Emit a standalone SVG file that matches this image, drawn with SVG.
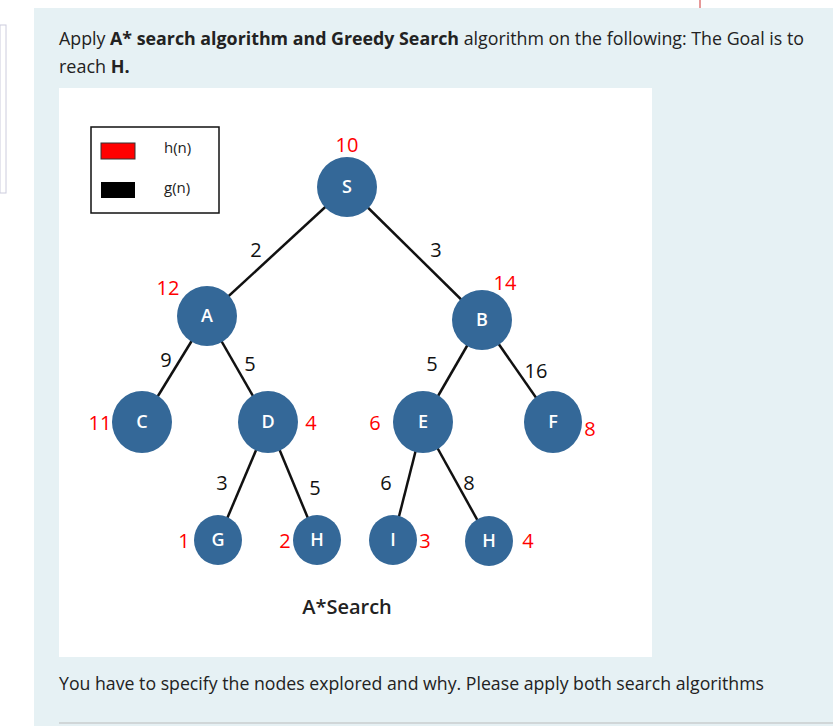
<svg xmlns="http://www.w3.org/2000/svg" width="833" height="726" viewBox="0 0 833 726">
<style>
.n{fill:#346898}
.nt{fill:#fff;font:600 18px "Open Sans",sans-serif;text-anchor:middle}
.e{stroke:#111;stroke-width:2.5}
.w{fill:#111;font:20px "Open Sans",sans-serif;text-anchor:middle}
.h{fill:#f00;font:20px "Open Sans",sans-serif;text-anchor:middle}
.p{font:18px "Open Sans",sans-serif;fill:#222}
</style>
<rect width="833" height="726" fill="#fff"/>
<rect x="0" y="25" width="6" height="168" fill="#fff" stroke="#ccd" stroke-width="1"/>
<line x1="700" y1="0" x2="700" y2="8" stroke="#c33"/>
<rect x="34" y="8" width="799" height="718" fill="#e6f1f4"/>
<text class="p" x="59" y="45" textLength="745" lengthAdjust="spacingAndGlyphs">Apply <tspan font-weight="bold">A* search algorithm and Greedy Search</tspan> algorithm on the following: The Goal is to</text>
<text class="p" x="59" y="73">reach <tspan font-weight="bold">H.</tspan></text>
<rect x="59" y="88" width="593" height="569" fill="#fff"/>
<g id="legend">
<rect x="91" y="127" width="128" height="86" fill="#fff" stroke="#111" stroke-width="1.5"/>
<rect x="101" y="143" width="34" height="16" fill="#f00" stroke="#333"/>
<rect x="101" y="182" width="34" height="16" fill="#000"/>
<text x="164" y="153" font-family="Open Sans,sans-serif" font-size="15" fill="#222">h(n)</text>
<text x="164" y="193" font-family="Open Sans,sans-serif" font-size="15" fill="#222">g(n)</text>
</g>
<g id="connectors">
<line class="e" x1="347" y1="187" x2="207" y2="316"/>
<line class="e" x1="347" y1="187" x2="482" y2="320"/>
<line class="e" x1="207" y1="316" x2="142" y2="422"/>
<line class="e" x1="207" y1="316" x2="268" y2="422"/>
<line class="e" x1="482" y1="320" x2="423" y2="422"/>
<line class="e" x1="482" y1="320" x2="553" y2="422"/>
<line class="e" x1="268" y1="422" x2="218" y2="540"/>
<line class="e" x1="268" y1="422" x2="317" y2="540"/>
<line class="e" x1="423" y1="422" x2="393" y2="540"/>
<line class="e" x1="423" y1="422" x2="489" y2="541"/>
<text class="w" x="256" y="257">2</text>
<text class="w" x="436" y="257">3</text>
<text class="w" x="166" y="367">9</text>
<text class="w" x="250" y="371">5</text>
<text class="w" x="432" y="371">5</text>
<text class="w" x="536" y="378">16</text>
<text class="w" x="222" y="490">3</text>
<text class="w" x="315" y="495">5</text>
<text class="w" x="386" y="490">6</text>
<text class="w" x="469" y="490">8</text>
</g>
<g id="S"><ellipse class="n" cx="347" cy="187" rx="30" ry="30"/><text class="nt" x="347" y="193">S</text><text class="h" x="347" y="152">10</text></g>
<g id="A"><ellipse class="n" cx="207" cy="316" rx="30" ry="30"/><text class="nt" x="207" y="322">A</text><text class="h" x="168" y="295">12</text></g>
<g id="B"><ellipse class="n" cx="482" cy="320" rx="30" ry="30"/><text class="nt" x="482" y="326">B</text><text class="h" x="505" y="290">14</text></g>
<g id="C"><ellipse class="n" cx="142" cy="422" rx="30" ry="31"/><text class="nt" x="142" y="428">C</text><text class="h" x="100" y="430">11</text></g>
<g id="D"><ellipse class="n" cx="268" cy="422" rx="30" ry="31"/><text class="nt" x="268" y="428">D</text><text class="h" x="311" y="430">4</text></g>
<g id="E"><ellipse class="n" cx="423" cy="422" rx="30" ry="31"/><text class="nt" x="423" y="428">E</text><text class="h" x="375" y="430">6</text></g>
<g id="F"><ellipse class="n" cx="553" cy="422" rx="29" ry="31"/><text class="nt" x="553" y="428">F</text><text class="h" x="590" y="436">8</text></g>
<g id="G"><ellipse class="n" cx="218" cy="540" rx="24" ry="25"/><text class="nt" x="218" y="546">G</text><text class="h" x="184" y="548">1</text></g>
<g id="H1"><ellipse class="n" cx="317" cy="540" rx="24" ry="25"/><text class="nt" x="317" y="546">H</text><text class="h" x="285" y="548">2</text></g>
<g id="I"><ellipse class="n" cx="393" cy="540" rx="24" ry="25"/><text class="nt" x="393" y="546">I</text><text class="h" x="425" y="548">3</text></g>
<g id="H2"><ellipse class="n" cx="489" cy="541" rx="24" ry="25"/><text class="nt" x="489" y="547">H</text><text class="h" x="528" y="548">4</text></g>
<text x="347" y="614" font-family="Open Sans,sans-serif" font-size="20" font-weight="600" fill="#222" text-anchor="middle">A*Search</text>
<text class="p" x="59" y="690" textLength="705" lengthAdjust="spacingAndGlyphs">You have to specify the nodes explored and why. Please apply both search algorithms</text>
<line x1="59" y1="723" x2="833" y2="723" stroke="#bbb"/>
</svg>
